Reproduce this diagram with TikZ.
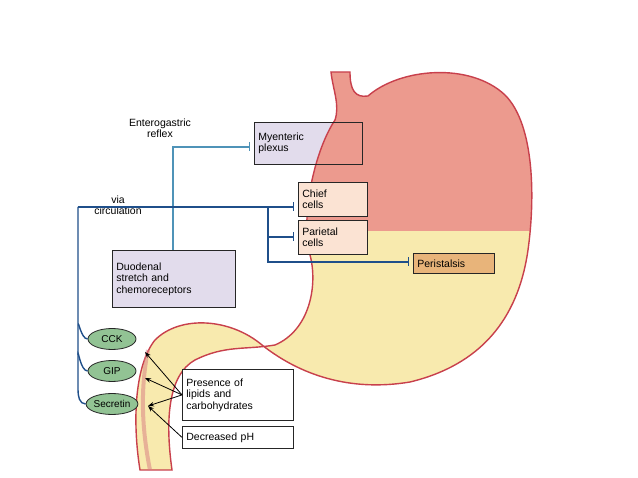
\documentclass[tikz,border=0pt]{standalone}
\usepackage{fontspec}
\setmainfont{Liberation Sans}
\usetikzlibrary{arrows.meta,shapes.geometric}
\definecolor{lav}{HTML}{E2DCEC}
\definecolor{peach}{HTML}{FBE3D3}
\definecolor{tan}{HTML}{E8B47A}
\definecolor{grn}{HTML}{92C394}
\definecolor{bl}{HTML}{1F4F8A}
\definecolor{lblue}{HTML}{4F93B8}
\definecolor{pinkf}{HTML}{EC9A8E}
\definecolor{pinke}{HTML}{C8404C}
\definecolor{yel}{HTML}{F8EAAE}
\begin{document}
\begin{tikzpicture}[x=1pt,y=-1pt,
 box/.style={draw=black!85,line width=0.8pt,align=left,inner xsep=4pt,inner ysep=3pt,font=\fontsize{10.5}{11.5}\selectfont,anchor=north west},
 ov/.style={draw=black!85,line width=0.8pt,fill=grn,ellipse,minimum width=48pt,minimum height=21pt,inner sep=0pt,font=\fontsize{10}{11}\selectfont},
 inh/.style={-{Bar[width=9pt]},shorten >=4pt},
 lab/.style={font=\fontsize{10.5}{11.5}\selectfont,align=center}]
\useasboundingbox (0,0) rectangle (638,478);
\fill[white] (0,0) rectangle (638,478);
% nodes behind stomach
\node[box,fill=lav,text width=100pt,minimum height=42pt] (mp) at (254,122) {Myenteric\\plexus\\[-9pt]};
% stomach
\def\stom{(350,72) .. controls (350,90) and (355,98) .. (368,96)
 .. controls (400,68) and (470,62) .. (505,95)
 .. controls (535,125) and (535,200) .. (528,250)
 .. controls (518,320) and (480,365) .. (410,382)
 .. controls (350,392) and (300,375) .. (262,345)
 .. controls (230,318) and (180,315) .. (155,340)
 .. controls (135,365) and (132,420) .. (140,470)
 -- (172,470)
 .. controls (165,420) and (168,375) .. (195,360)
 .. controls (225,345) and (245,350) .. (275,345)
 .. controls (310,330) and (318,285) .. (310,255)
 .. controls (300,215) and (315,150) .. (335,120)
 .. controls (340,105) and (333,90) .. (331,72) -- cycle}
\fill[pinkf] \stom;
\begin{scope}
\clip (0,232) rectangle (638,478);
\fill[yel] \stom;
\end{scope}
\draw[pinke,line width=1.4pt] \stom;
\draw[pinke!70,line width=4pt,opacity=0.5] (148,350) .. controls (140,390) and (142,430) .. (150,470);
\draw[black!85,line width=0.8pt] (mp.north west) rectangle (mp.south east);
% nodes
\node[lab] (eg) at (160,128) {Enterogastric\\reflex};
\node[lab] (vc) at (118,205) {via\\circulation};
\node[box,fill=peach,text width=61pt,minimum height=34pt] (cc) at (298,182) {Chief\\cells};
\node[box,fill=peach,text width=61pt,minimum height=34pt] (pc) at (298,220) {Parietal\\cells};
\node[box,fill=tan,text width=73pt,minimum height=20pt,inner ysep=2pt] (pe) at (413,253) {Peristalsis};
\node[box,fill=lav,text width=115pt,minimum height=57pt] (du) at (112,250) {Duodenal\\stretch and\\chemoreceptors};
\node[ov] (cck) at (112,339) {CCK};
\node[ov] (gip) at (112,371) {GIP};
\node[ov] (sec) at (112,404) {Secretin};
\node[box,fill=white,text width=103pt,minimum height=51pt] (lip) at (182,369) {Presence of\\lipids and\\carbohydrates};
\node[box,fill=white,text width=103pt,minimum height=22pt] (ph) at (182,426) {Decreased pH};
\coordinate (w1) at (145,352);
\coordinate (w2) at (145,378);
\coordinate (w3) at (148,406);
% connectors
\draw[lblue,line width=1.3pt,inh] (du.north -| 173,0) -- (173,147) -- (mp.west |- 0,147);
\draw[bl,line width=1.4pt] (cck.west) to[out=180,in=90] (78,325) -- (78,207);
\draw[bl,line width=1.4pt] (gip.west) to[out=180,in=90] (78,355);
\draw[bl,line width=1.4pt] (sec.west) to[out=180,in=-90] (78,390) -- (78,325);
\draw[bl,line width=1.4pt,inh] (78,207) -- (cc.west |- 0,207);
\draw[bl,line width=1.4pt,inh] (268,207) -- (268,237) -- (pc.west |- 0,237);
\draw[bl,line width=1.4pt,inh] (268,237) -- (268,262) -- (pe.west |- 0,262);
\draw[-{Stealth[length=6pt]},line width=0.8pt] (lip.west) -- (w1);
\draw[-{Stealth[length=6pt]},line width=0.8pt] (lip.west) -- (w2);
\draw[-{Stealth[length=6pt]},line width=0.8pt] (lip.west) -- (w3);
\draw[-{Stealth[length=6pt]},line width=0.8pt] (ph.west) -- (w3);
\end{tikzpicture}
\end{document}
